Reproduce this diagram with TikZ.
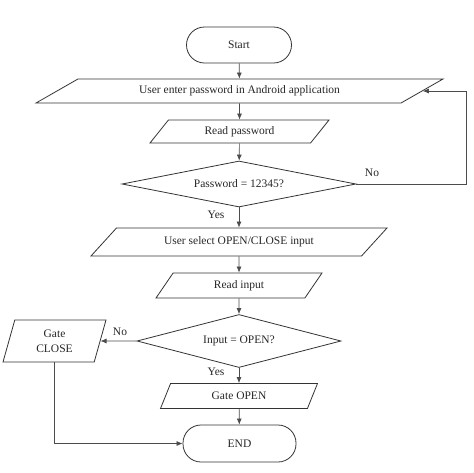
\documentclass[tikz,border=0pt]{standalone}
\usepackage{fontspec}
\setmainfont{Liberation Serif}
\usetikzlibrary{shapes.geometric,arrows.meta}

\begin{document}
\begin{tikzpicture}[x=1pt,y=1pt,
  every node/.style={font=\fontsize{11.5}{15}\selectfont, text=black!85},
  term/.style={draw=black!80, line width=0.8pt, rounded corners=18pt, minimum width=105pt, minimum height=36pt},
  io/.style 2 args={draw=black!80, line width=0.8pt, trapezium, trapezium stretches body, trapezium left angle=#1, trapezium right angle=#2, inner sep=1pt},
  decision/.style={draw=black!80, line width=0.8pt, diamond, shape aspect=#1, inner sep=0pt},
  arr/.style={draw=black!70, line width=0.7pt, -{Latex[length=6pt,width=5pt]}},
  lbl/.style={inner sep=0pt}]
\useasboundingbox (0,0) rectangle (474,-472);
% shapes
\node[term] (start) at (239,-45) {Start};
\node[io={16.5}{163.5}, minimum width=407pt, minimum height=24pt] (enter) at (239.5,-91) {User enter password in Android application};
\node[io={34}{146}, minimum width=179pt, minimum height=23pt] (readpw) at (239.5,-131.5) {Read password};
\node[decision=5, minimum width=234pt, minimum height=46pt] (pwok) at (239,-184) {Password = 12345?};
\node[io={26}{154}, minimum width=296pt, minimum height=28pt] (select) at (239,-242) {User select OPEN/CLOSE input};
\node[io={36}{144}, minimum width=166pt, minimum height=25pt] (readin) at (239,-285.5) {Read input};
\node[decision=4, minimum width=204pt, minimum height=53pt] (isopen) at (239,-341) {Input = OPEN?};
\node[io={64.5}{115.5}, minimum width=103pt, minimum height=42pt, align=center] (close) at (54.5,-341) {Gate\\CLOSE};
\node[io={44}{136}, minimum width=157pt, minimum height=25pt] (open) at (239,-396) {Gate OPEN};
\node[term, minimum width=113pt, minimum height=37pt] (end) at (239.5,-443.5) {END};
% labels
\node[lbl] (no1) at (372,-173) {No};
\node[lbl] (yes1) at (216,-215) {Yes};
\node[lbl] (no2) at (120,-332) {No};
\node[lbl] (yes2) at (216,-372) {Yes};
% connectors
\coordinate (back) at (466,-184);
\draw[arr] (start) -- (enter);
\draw[arr] (enter) -- (readpw);
\draw[arr] (readpw) -- (pwok);
\draw[arr] (pwok) -- (select);
\draw[arr] (pwok.east) -- (back) |- (enter);
\draw[arr] (select) -- (readin);
\draw[arr] (readin) -- (isopen);
\draw[arr] (isopen) -- (close);
\draw[arr] (isopen) -- (open);
\draw[arr] (open) -- (end);
\draw[arr] (close) |- (end);
\end{tikzpicture}
\end{document}
